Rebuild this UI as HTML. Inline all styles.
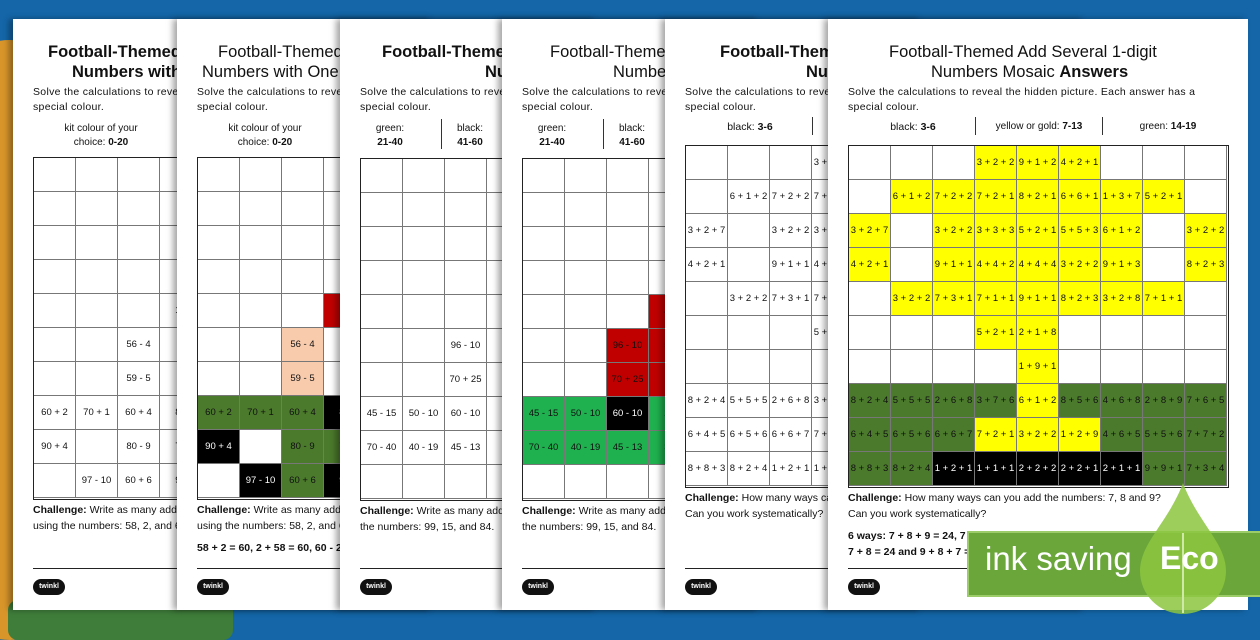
<!DOCTYPE html>
<html><head><meta charset="utf-8">
<style>
*{margin:0;padding:0;box-sizing:border-box}
body{width:1260px;height:630px;overflow:hidden;background:#1466a8;position:relative;font-family:"Liberation Sans",sans-serif;color:#111}
.pg{position:absolute;width:420px;top:19px;height:591px;background:#fff;box-shadow:-4px 0 6px rgba(0,0,0,.35);overflow:hidden}
.t{position:absolute;white-space:nowrap;font-size:16.5px;line-height:20px}
.b{font-weight:bold}
.s{position:absolute;left:20px;font-size:10.5px;line-height:15px;white-space:nowrap;letter-spacing:.3px}
.lg{position:absolute;font-size:10px;line-height:14px;text-align:center;white-space:nowrap}
.sep{position:absolute;width:1px;background:#333}
.grid{position:absolute;border:1.5px solid #222}
.c{position:absolute;width:42px;height:34px;border-right:1px solid #777;border-bottom:1px solid #777;font-size:9.5px;display:flex;align-items:center;justify-content:center;white-space:nowrap}
.ch{position:absolute;left:20px;font-size:10.5px;line-height:15px;white-space:nowrap}
.ft{position:absolute;left:20px;width:380px;height:1px;background:#222;top:549px}
.logo{position:absolute;left:20px;top:560px;width:32px;height:16px;background:#111;border-radius:8px;color:#fff;font-size:7px;font-weight:bold;text-align:center;line-height:16px}
</style></head><body>
<div style="position:absolute;left:-60px;top:40px;width:140px;height:600px;border-radius:70px;background:#d8962a"></div>
<div style="position:absolute;left:8px;top:600px;width:225px;height:40px;background:#3f7d3a;border-radius:10px"></div>
<div id="root"></div>
<div style="position:absolute;left:967px;top:531px;width:300px;height:66px;background:#6aa63a;border:2px solid #9ccc6a"></div>
<div style="position:absolute;left:985px;top:540px;font-size:33px;color:#fff;white-space:nowrap">ink saving</div>
<svg style="position:absolute;left:1138px;top:483px" width="90" height="135"><path d="M45 0 C60 40 88 60 88 88 A43 43 0 0 1 2 88 C2 60 30 40 45 0Z" fill="#8cc63f" opacity=".85"/><line x1="45" y1="50" x2="45" y2="130" stroke="#cfe9a8" stroke-width="2"/></svg>
<div style="position:absolute;left:1160px;top:540px;font-size:32px;font-weight:bold;color:#fff">Eco</div>
<script>
const pages=[
{x:13,l1:[48,"Football-Themed Add and Subtract",1],l2:[72,"Numbers with One Decimal",1],set:"a",col:0,gy:138,leg:"a",ans:0},
{x:177,l1:[218,"Football-Themed Add and Subtract",0],l2:[202,"Numbers with One Decimal",0],set:"a",col:1,gy:138,leg:"a",ans:1},
{x:340,l1:[382,"Football-Themed Add and Subtract",1],l2:[485,"Numbers Mosaic",1],set:"b",col:0,gy:139,leg:"b",ans:0},
{x:502,l1:[550,"Football-Themed Add and Subtract",0],l2:[613,"Numbers Mosaic",0],set:"b",col:1,gy:139,leg:"b",ans:0},
{x:665,l1:[720,"Football-Themed Add Several 1-digit",1],l2:[806,"Numbers Mosaic",1],set:"c",col:0,gy:126,leg:"c",ans:0},
{x:828,l1:[889,"Football-Themed Add Several 1-digit",0],l2:[931,"Numbers Mosaic <b>Answers</b>",0],set:"c",col:1,gy:126,leg:"c",ans:1}];
const W="#fff",Y="#ffff00",G="#4b7a2c",B="#000",R="#c00000",P="#f8cbad",L="#1fb14f";
const A={}; // [row][col]=[text,color]
A.a={"4,3":["19",R],"5,2":["56 - 4",P],"6,2":["59 - 5",P],"7,0":["60 + 2",G],"7,1":["70 + 1",G],"7,2":["60 + 4",G],"7,3":["80",B],"8,0":["90 + 4",B],"8,2":["80 - 9",G],"8,3":["70",G],"9,1":["97 - 10",B],"9,2":["60 + 6",G],"9,3":["99",B]};
A.b={"4,3":["40",R],"5,2":["96 - 10",R],"5,3":["50",R],"6,2":["70 + 25",R],"6,3":["10",R],"7,0":["45 - 15",L],"7,1":["50 - 10",L],"7,2":["60 - 10",B],"7,3":["20",L],"8,0":["70 - 40",L],"8,1":["40 - 19",L],"8,2":["45 - 13",L],"8,3":["35",L]};
const rows=[
"_,_,_,Y3+2+2,Y9+1+2,Y4+2+1,_,_,_",
"_,Y6+1+2,Y7+2+2,Y7+2+1,Y8+2+1,Y6+6+1,Y1+3+7,Y5+2+1,_",
"Y3+2+7,_,Y3+2+2,Y3+3+3,Y5+2+1,Y5+5+3,Y6+1+2,_,Y3+2+2",
"Y4+2+1,_,Y9+1+1,Y4+4+2,Y4+4+4,Y3+2+2,Y9+1+3,_,Y8+2+3",
"_,Y3+2+2,Y7+3+1,Y7+1+1,Y9+1+1,Y8+2+3,Y3+2+8,Y7+1+1,_",
"_,_,_,Y5+2+1,Y2+1+8,_,_,_,_",
"_,_,_,_,Y1+9+1,_,_,_,_",
"G8+2+4,G5+5+5,G2+6+8,G3+7+6,Y6+1+2,G8+5+6,G4+6+8,G2+8+9,G7+6+5",
"G6+4+5,G6+5+6,G6+6+7,Y7+2+1,Y3+2+2,Y1+2+9,G4+6+5,G5+5+6,G7+7+2",
"G8+8+3,G8+2+4,B1+2+1,B1+1+1,B2+2+2,B2+2+1,B2+1+1,G9+9+1,G7+3+4"];
A.c={};rows.forEach((r,i)=>r.split(",").forEach((v,j)=>{if(v!="_")A.c[i+","+j]=[v.slice(1).split("+").join(" + "),{Y:Y,G:G,B:B}[v[0]]]}));
const legs={
a:`<div class="lg" style="left:8px;top:103px;width:160px">kit colour of your<br>choice: <b>0-20</b></div><div class="sep" style="left:172px;top:101px;height:28px"></div><div class="lg" style="left:175px;top:103px;width:160px">hair colour of your<br>choice: <b>21-40</b></div><div class="sep" style="left:290px;top:101px;height:28px"></div>`,
b:`<div class="lg" style="left:10px;top:103px;width:80px">green:<br><b>21-40</b></div><div class="sep" style="left:101px;top:100px;height:30px"></div><div class="lg" style="left:85px;top:103px;width:90px">black:<br><b>41-60</b></div><div class="sep" style="left:210px;top:100px;height:30px"></div>`,
c:`<div class="lg" style="left:20px;top:101px;width:130px"><span style="font-size:10.5px">black: <b>3-6</b></span></div><div class="sep" style="left:147px;top:98px;height:18px"></div><div class="lg" style="left:150px;top:101px;width:122px">yellow or gold: <b>7-13</b></div><div class="sep" style="left:274px;top:98px;height:18px"></div><div class="lg" style="left:280px;top:101px;width:120px">green: <b>14-19</b></div>`};
const ch={a:["<b>Challenge:</b> Write as many addition and subtraction facts as you can","using the numbers: 58, 2, and 60.","<b>58 + 2 = 60, 2 + 58 = 60, 60 - 2 = 58, 60 - 58 = 2</b>"],
b:["<b>Challenge:</b> Write as many addition and subtraction facts as you can using","the numbers: 99, 15, and 84.","<b>15 + 84 = 99, 84 + 15 = 99, 99 - 15 = 84</b>"],
c:["<b>Challenge:</b> How many ways can you add the numbers: 7, 8 and 9?","Can you work systematically?","<b>6 ways: 7 + 8 + 9 = 24, 7 + 9 + 8 = 24, 8 + 7 + 9 = 24, 8 + 9 + 7 = 24, 9 +</b>","<b>7 + 8 = 24 and 9 + 8 + 7 = 24</b>"]};
let h="";
pages.forEach(p=>{
 let s=`<div class="pg" style="left:${p.x}px">`;
 s+=`<div class="t ${p.l1[2]?'b':''}" style="left:${p.l1[0]-p.x}px;top:23px">${p.l1[1]}</div>`;
 s+=`<div class="t ${p.l2[2]?'b':''}" style="left:${p.l2[0]-p.x}px;top:43px">${p.l2[1]}</div>`;
 s+=`<div class="s" style="top:66px">Solve the calculations to reveal the hidden picture. Each answer has a</div><div class="s" style="top:81px">special colour.</div>`;
 s+=legs[p.leg];
 const gx=20,gy=p.gy,n=9;
 s+=`<div class="grid" style="left:${gx}px;top:${gy}px;width:${n*42+3}px;height:${10*34+3}px">`;
 for(let r=0;r<10;r++)for(let c=0;c<n;c++){const v=A[p.set][r+","+c];let bg=W,tx="",fc="#111";
  if(v){tx=v[0];if(p.col){bg=v[1];if(bg==B)fc="#fff";}}
  s+=`<div class="c" style="left:${c*42}px;top:${r*34}px;background:${bg};color:${fc}">${tx}</div>`;}
 s+=`</div>`;
 const cy=gy+346;const L=ch[p.set];
 s+=`<div class="ch" style="top:${cy}px">${L[0]}</div><div class="ch" style="top:${cy+16}px">${L[1]}</div>`;
 if(p.ans){for(let i=2;i<L.length;i++)s+=`<div class="ch" style="top:${cy+38+(i-2)*16}px">${L[i]}</div>`;}
 s+=`<div class="ft"></div><div class="logo">twinkl</div></div>`;
 h+=s;});
document.getElementById("root").innerHTML=h;
</script>
</body></html>
